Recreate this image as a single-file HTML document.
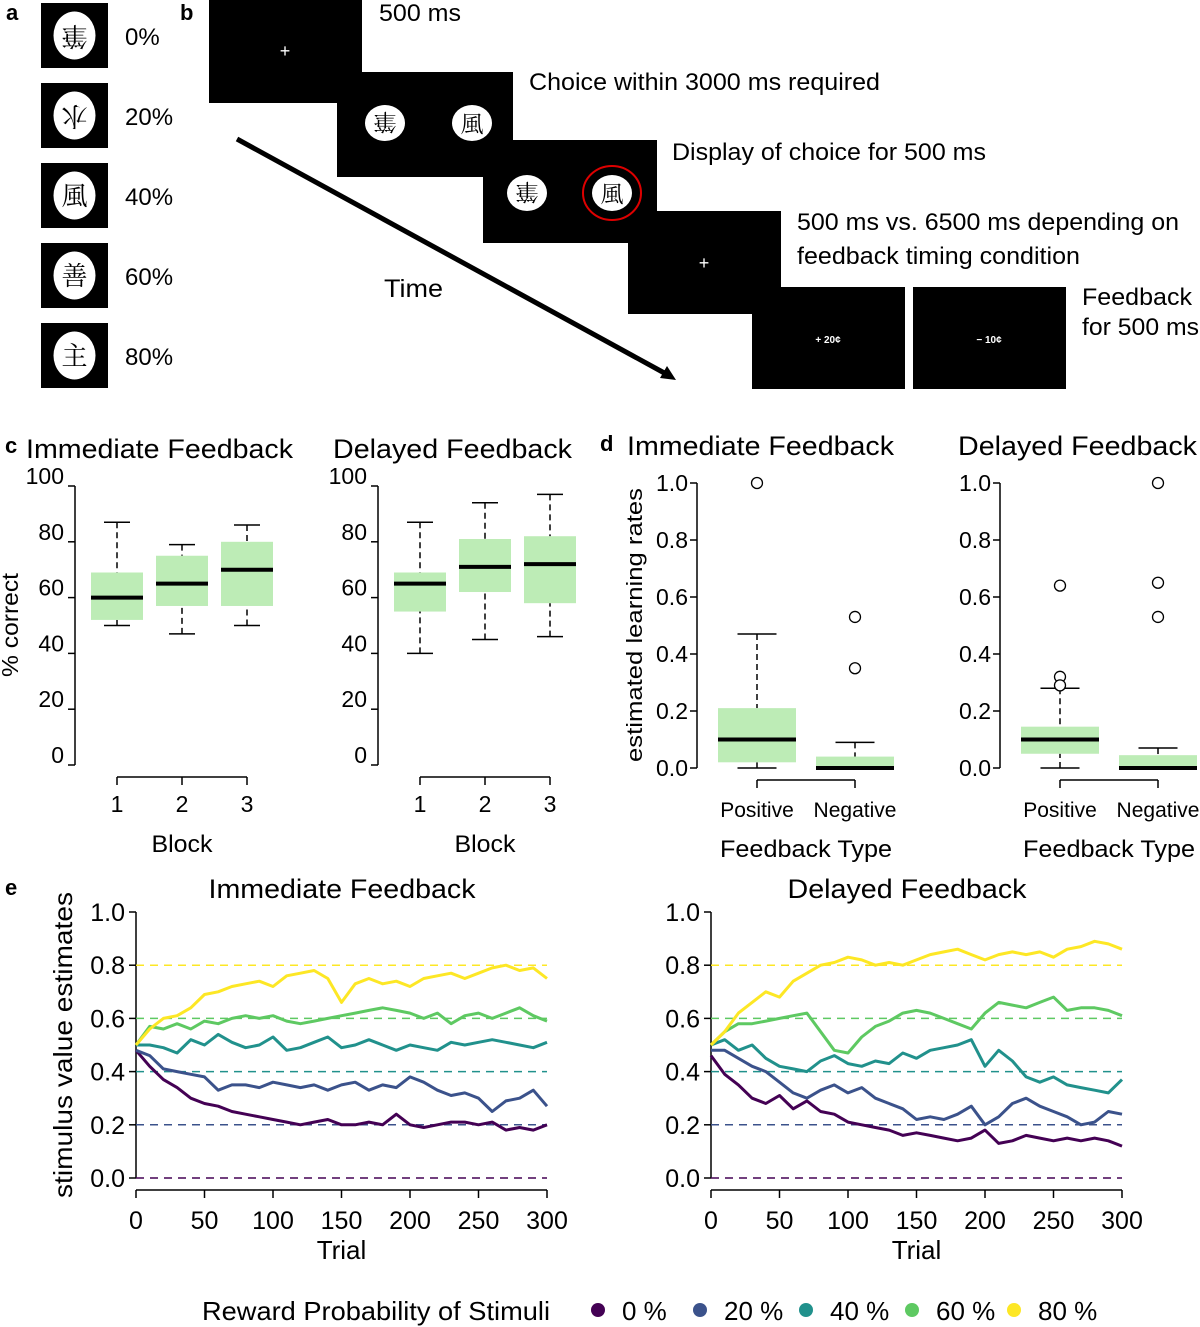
<!DOCTYPE html>
<html><head><meta charset="utf-8"><style>
html,body{margin:0;padding:0;background:#fff}
svg{display:block;font-family:"Liberation Sans","Noto Sans CJK SC",sans-serif}
</style></head><body>
<svg id="fig" width="1200" height="1327" viewBox="0 0 1200 1327" xmlns="http://www.w3.org/2000/svg">
<g>
<text x="6" y="20" font-size="22" font-weight="bold">a</text>
<g id="stims"></g>
</g>
<g>
<text x="180" y="20" font-size="22" font-weight="bold">b</text>
<rect x="209" y="0" width="153" height="103" fill="#000"/>
<text x="285" y="57" font-size="18" fill="#fff" text-anchor="middle">+</text>
<rect x="337" y="72" width="176" height="105" fill="#000"/>
<rect x="483" y="140" width="174" height="103" fill="#000"/>
<rect x="628" y="211" width="153" height="103" fill="#000"/>
<text x="704" y="269" font-size="18" fill="#fff" text-anchor="middle">+</text>
<rect x="752" y="287" width="153" height="102" fill="#000"/>
<rect x="913" y="287" width="153" height="102" fill="#000"/>
<text x="828" y="343" font-size="10" fill="#fff" font-weight="bold" text-anchor="middle">+ 20¢</text>
<text x="989" y="343" font-size="10" fill="#fff" font-weight="bold" text-anchor="middle">− 10¢</text>
<g id="bicons"></g>
<ellipse cx="612" cy="193" rx="29" ry="27" fill="none" stroke="#d00" stroke-width="2"/>
<line x1="237" y1="139" x2="668" y2="375" stroke="#000" stroke-width="5"/>
<polygon points="676,380 660,378 667,366" fill="#000"/>
<text x="384" y="297" font-size="25" textLength="59" lengthAdjust="spacingAndGlyphs">Time</text>
<g font-size="24">
<text x="379" y="21" textLength="82" lengthAdjust="spacingAndGlyphs">500 ms</text>
<text x="529" y="90" textLength="351" lengthAdjust="spacingAndGlyphs">Choice within 3000 ms required</text>
<text x="672" y="160" textLength="314" lengthAdjust="spacingAndGlyphs">Display of choice for 500 ms</text>
<text x="797" y="230" textLength="382" lengthAdjust="spacingAndGlyphs">500 ms vs. 6500 ms depending on</text>
<text x="797" y="264" textLength="283" lengthAdjust="spacingAndGlyphs">feedback timing condition</text>
<text x="1082" y="305" textLength="110" lengthAdjust="spacingAndGlyphs">Feedback</text>
<text x="1082" y="335" textLength="117" lengthAdjust="spacingAndGlyphs">for 500 ms</text>
</g>
</g>
<g id="pc">
<text x="5" y="453" font-size="22" font-weight="bold">c</text>
<text x="26" y="458" font-size="27" textLength="267" lengthAdjust="spacingAndGlyphs">Immediate Feedback</text>
<text x="333" y="458" font-size="27" textLength="239" lengthAdjust="spacingAndGlyphs">Delayed Feedback</text>
<text transform="translate(18,625) rotate(-90)" font-size="23" text-anchor="middle" textLength="104" lengthAdjust="spacingAndGlyphs">% correct</text>
</g>
<g id="pd">
<text x="600" y="451" font-size="22" font-weight="bold">d</text>
<text x="627" y="455" font-size="27" textLength="267" lengthAdjust="spacingAndGlyphs">Immediate Feedback</text>
<text x="958" y="455" font-size="27" textLength="239" lengthAdjust="spacingAndGlyphs">Delayed Feedback</text>
<text transform="translate(642,625) rotate(-90)" font-size="22" text-anchor="middle" textLength="274" lengthAdjust="spacingAndGlyphs">estimated learning rates</text>
</g>
<g id="pe">
<text x="5" y="895" font-size="22" font-weight="bold">e</text>
<text x="342" y="898" font-size="27" text-anchor="middle" textLength="267" lengthAdjust="spacingAndGlyphs">Immediate Feedback</text>
<text x="907" y="898" font-size="27" text-anchor="middle" textLength="239" lengthAdjust="spacingAndGlyphs">Delayed Feedback</text>
<text transform="translate(72,1045) rotate(-90)" font-size="26" text-anchor="middle" textLength="306" lengthAdjust="spacingAndGlyphs">stimulus value estimates</text>
</g>
<g id="legend">
<text x="202" y="1320" font-size="26" textLength="348" lengthAdjust="spacingAndGlyphs">Reward Probability of Stimuli</text>
</g>
</svg>
<script>
const NS="http://www.w3.org/2000/svg";
function mk(tag,attrs,parent,txt){const e=document.createElementNS(NS,tag);for(const k in attrs)e.setAttribute(k,attrs[k]);if(txt!==undefined)e.textContent=txt;parent.appendChild(e);return e;}

// ---------- panel a ----------
const stimChars=["筆","水","風","善","主"];
const stimLabels=["0%","20%","40%","60%","80%"];
const stimRot=[180,180,0,0,0];
const sg=document.getElementById('stims');
stimChars.forEach((c,i)=>{
  const y=3+i*80;
  const r=mk('rect',{x:41,y:y,width:67,height:65,fill:'#000'},sg);
  
  
  mk('ellipse',{cx:74.5,cy:y+32.5,rx:21,ry:24,fill:'#fff'},sg);
  mk('text',{x:74.5,y:y+42,'font-size':26,'text-anchor':'middle',transform:`rotate(${stimRot[i]} 74.5 ${y+33})`,'font-family':'"Noto Serif CJK SC",serif'},sg,c);
  const t=mk('text',{x:125,y:y+42,'font-size':24},sg,stimLabels[i]);
  
  
});
const bg=document.getElementById('bicons');
[[385,123,"筆",180],[472,123,"風",0],[527,193,"筆",180],[612,193,"風",0]].forEach(([x,y,c,rot])=>{
  mk('ellipse',{cx:x,cy:y,rx:20,ry:18,fill:'#fff'},bg);
  mk('text',{x:x,y:y+9,'font-size':23,'text-anchor':'middle',transform:`rotate(${rot} ${x} ${y})`,'font-family':'"Noto Serif CJK SC",serif'},bg,c);
});

// ---------- panel c data ----------
const blocks=["1","2","3"];
const cTicks=[0,20,40,60,80,100];
const immC_wlo=[50,47,50], immC_q1=[52,57,57], immC_med=[60,65,70], immC_q3=[69,75,80], immC_whi=[87,79,86];
const delC_wlo=[40,45,46], delC_q1=[55,62,58], delC_med=[65,71,72], delC_q3=[69,81,82], delC_whi=[87,94,97];

// ---------- panel d data ----------
const fbTypes=["Positive","Negative"];
const dTicks=[0.0,0.2,0.4,0.6,0.8,1.0];
const immD_wlo=[0,0], immD_q1=[0.02,0], immD_med=[0.10,0.0], immD_q3=[0.21,0.04], immD_whi=[0.47,0.09];
const immD_out=[[1.0],[0.53,0.35]];
const delD_wlo=[0,0], delD_q1=[0.05,0], delD_med=[0.10,0.0], delD_q3=[0.145,0.045], delD_whi=[0.28,0.07];
const delD_out=[[0.64,0.32,0.29],[1.0,0.65,0.53]];

function boxPanel(g,o){
  const y=v=>o.y0-(v-o.vmin)/(o.vmax-o.vmin)*(o.y0-o.y1);
  const x=i=>o.xs[0]+i*(o.xs[1]-o.xs[0]);
  const ax=mk('line',{x1:o.ax,y1:y(o.vmin),x2:o.ax,y2:y(o.vmax),stroke:'#000','stroke-width':1.5},g);
  
  
  o.ticks.forEach(t=>{
    mk('line',{x1:o.ax-7,y1:y(t),x2:o.ax,y2:y(t),stroke:'#000','stroke-width':1.5},g);
    const tl=mk('text',{x:o.ax-o.tdx,y:y(t)+o.tdy,'font-size':o.tsize,'text-anchor':'end'},g,o.fmt(t));
    
    
  });
  const xa=mk('line',{x1:x(0),y1:o.xay,x2:x(o.cats.length-1),y2:o.xay,stroke:'#000','stroke-width':1.5},g);
  
  
  o.cats.forEach((c,i)=>{
    mk('line',{x1:x(i),y1:o.xay,x2:x(i),y2:o.xay+8,stroke:'#000','stroke-width':1.5},g);
    const tl=mk('text',{x:x(i),y:o.xay+o.lblDy,'font-size':o.lblSize,'text-anchor':'middle'},g,c);
    
    
    const cx=x(i),hw=o.bw/2;
    mk('line',{x1:cx,y1:y(o.whi[i]),x2:cx,y2:y(o.q3[i]),stroke:'#000','stroke-width':1.5,'stroke-dasharray':'6,4'},g);
    mk('line',{x1:cx,y1:y(o.wlo[i]),x2:cx,y2:y(o.q1[i]),stroke:'#000','stroke-width':1.5,'stroke-dasharray':'6,4'},g);
    mk('line',{x1:cx-hw/2,y1:y(o.whi[i]),x2:cx+hw/2,y2:y(o.whi[i]),stroke:'#000','stroke-width':1.5},g);
    mk('line',{x1:cx-hw/2,y1:y(o.wlo[i]),x2:cx+hw/2,y2:y(o.wlo[i]),stroke:'#000','stroke-width':1.5},g);
    const b=mk('rect',{x:cx-hw,y:y(o.q3[i]),width:o.bw,height:Math.max(1,y(o.q1[i])-y(o.q3[i])),fill:'#bdecb6'},g);
    
    
    mk('line',{x1:cx-hw,y1:y(o.med[i]),x2:cx+hw,y2:y(o.med[i]),stroke:'#000','stroke-width':4},g);
    (o.out?o.out[i]:[]).forEach(v=>{
      const p=mk('circle',{cx:cx,cy:y(v),r:5.5,fill:'#fff',stroke:'#000','stroke-width':1.3},g);
      
      
    });
  });
  const xt=mk('text',{x:(x(0)+x(o.cats.length-1))/2,y:o.xtY,'font-size':24,'text-anchor':'middle'},g,o.xtitle);
  if(o.xtLen){xt.setAttribute('textLength',o.xtLen);xt.setAttribute('lengthAdjust','spacingAndGlyphs');}
  
  
}
const pc=document.getElementById('pc');
const cfmt=t=>String(t);
boxPanel(pc,{ax:75,y0:765,y1:486,vmin:0,vmax:100,ticks:cTicks,fmt:cfmt,tdx:11,tsize:23,tdy:-2,xs:[117,182],cats:blocks,xay:777,lblDy:35,lblSize:23,bw:52,xtY:852,xtitle:'Block',xtLen:61,wlo:immC_wlo,q1:immC_q1,med:immC_med,q3:immC_q3,whi:immC_whi});
boxPanel(pc,{ax:378,y0:765,y1:486,vmin:0,vmax:100,ticks:cTicks,fmt:cfmt,tdx:11,tsize:23,tdy:-2,xs:[420,485],cats:blocks,xay:777,lblDy:35,lblSize:23,bw:52,xtY:852,xtitle:'Block',xtLen:61,wlo:delC_wlo,q1:delC_q1,med:delC_med,q3:delC_q3,whi:delC_whi});
const pd=document.getElementById('pd');
const dfmt=t=>t.toFixed(1);
boxPanel(pd,{ax:697,y0:768,y1:483,vmin:0,vmax:1,ticks:dTicks,fmt:dfmt,tdx:9,tsize:23,tdy:8,xs:[757,855],cats:fbTypes,xay:780,lblDy:37,lblSize:21,bw:78,xtY:857,xtitle:'Feedback Type',xtLen:172,wlo:immD_wlo,q1:immD_q1,med:immD_med,q3:immD_q3,whi:immD_whi,out:immD_out});
boxPanel(pd,{ax:1000,y0:768,y1:483,vmin:0,vmax:1,ticks:dTicks,fmt:dfmt,tdx:9,tsize:23,tdy:8,xs:[1060,1158],cats:fbTypes,xay:780,lblDy:37,lblSize:21,bw:78,xtY:857,xtitle:'Feedback Type',xtLen:172,wlo:delD_wlo,q1:delD_q1,med:delD_med,q3:delD_q3,whi:delD_whi,out:delD_out});

// ---------- panel e data ----------
const probLabels=["0 %","20 %","40 %","60 %","80 %"];
const trueProbs=[0,0.2,0.4,0.6,0.8];
const colors=["#440154","#3b528b","#21918c","#5ec962","#fde725"];
const eXTicks=[0,50,100,150,200,250,300];
const eYTicks=[0.0,0.2,0.4,0.6,0.8,1.0];
const trials=[0,10,20,30,40,50,60,70,80,90,100,110,120,130,140,150,160,170,180,190,200,210,220,230,240,250,260,270,280,290,300];
const immP0=[0.48,0.42,0.37,0.34,0.30,0.28,0.27,0.25,0.24,0.23,0.22,0.21,0.20,0.21,0.22,0.20,0.20,0.21,0.20,0.24,0.20,0.19,0.20,0.21,0.21,0.20,0.21,0.18,0.19,0.18,0.20];
const immP20=[0.48,0.46,0.41,0.40,0.39,0.38,0.33,0.35,0.35,0.34,0.36,0.35,0.34,0.35,0.33,0.35,0.36,0.33,0.35,0.34,0.38,0.36,0.33,0.31,0.32,0.30,0.25,0.29,0.30,0.33,0.27];
const immP40=[0.50,0.50,0.49,0.47,0.52,0.50,0.54,0.51,0.49,0.50,0.53,0.48,0.49,0.51,0.53,0.49,0.50,0.52,0.50,0.48,0.50,0.49,0.48,0.51,0.50,0.51,0.52,0.51,0.50,0.49,0.51];
const immP60=[0.50,0.57,0.56,0.58,0.56,0.59,0.58,0.60,0.61,0.60,0.61,0.59,0.58,0.59,0.60,0.61,0.62,0.63,0.64,0.63,0.62,0.60,0.62,0.58,0.61,0.62,0.60,0.62,0.64,0.61,0.59];
const immP80=[0.50,0.56,0.60,0.61,0.64,0.69,0.70,0.72,0.73,0.74,0.72,0.76,0.77,0.78,0.75,0.66,0.73,0.75,0.73,0.74,0.72,0.75,0.76,0.77,0.75,0.77,0.79,0.80,0.78,0.79,0.75];
const delP0=[0.46,0.39,0.35,0.30,0.28,0.31,0.26,0.29,0.25,0.24,0.21,0.20,0.19,0.18,0.16,0.17,0.16,0.15,0.14,0.15,0.18,0.13,0.14,0.16,0.15,0.14,0.15,0.14,0.15,0.14,0.12];
const delP20=[0.48,0.48,0.45,0.42,0.40,0.36,0.32,0.30,0.33,0.35,0.32,0.34,0.30,0.28,0.26,0.22,0.23,0.22,0.24,0.27,0.20,0.23,0.28,0.30,0.27,0.25,0.23,0.20,0.21,0.25,0.24];
const delP40=[0.50,0.52,0.48,0.50,0.45,0.42,0.41,0.40,0.44,0.46,0.43,0.42,0.44,0.43,0.47,0.45,0.48,0.49,0.50,0.52,0.42,0.48,0.44,0.38,0.36,0.38,0.35,0.34,0.33,0.32,0.37];
const delP60=[0.50,0.55,0.58,0.58,0.59,0.60,0.61,0.62,0.55,0.48,0.47,0.53,0.57,0.59,0.62,0.63,0.62,0.60,0.58,0.56,0.62,0.66,0.65,0.64,0.66,0.68,0.63,0.64,0.64,0.63,0.61];
const delP80=[0.50,0.55,0.62,0.66,0.70,0.68,0.74,0.77,0.80,0.81,0.83,0.82,0.80,0.81,0.80,0.82,0.84,0.85,0.86,0.84,0.82,0.84,0.85,0.84,0.85,0.83,0.86,0.87,0.89,0.88,0.86];
const immSeries=[immP0,immP20,immP40,immP60,immP80];
const delSeries=[delP0,delP20,delP40,delP60,delP80];

function linePanel(g,xa,series){
  const X=t=>xa+t/300*411, Y=v=>1178-v*266;
  const ya=mk('line',{x1:xa,y1:Y(0),x2:xa,y2:Y(1),stroke:'#000','stroke-width':1.5},g);
  
  
  eYTicks.forEach(t=>{
    mk('line',{x1:xa-7,y1:Y(t),x2:xa,y2:Y(t),stroke:'#000','stroke-width':1.5},g);
    const tl=mk('text',{x:xa-11,y:Y(t)+9,'font-size':25,'text-anchor':'end'},g,t.toFixed(1));
    
    
  });
  const xl=mk('line',{x1:X(0),y1:1190,x2:X(300),y2:1190,stroke:'#000','stroke-width':1.5},g);
  
  
  eXTicks.forEach(t=>{
    mk('line',{x1:X(t),y1:1190,x2:X(t),y2:1198,stroke:'#000','stroke-width':1.5},g);
    const tl=mk('text',{x:X(t),y:1229,'font-size':25,'text-anchor':'middle'},g,String(t));
    
    
  });
  const xt=mk('text',{x:X(150),y:1259,'font-size':26,'text-anchor':'middle'},g,'Trial');
  
  
  trueProbs.forEach((p,i)=>{
    const r=mk('line',{x1:X(0),y1:Y(p),x2:X(300),y2:Y(p),stroke:colors[i],'stroke-width':1.5,'stroke-dasharray':'8,6'},g);
    
    
  });
  series.forEach((s,i)=>{
    const d=s.map((v,j)=>(j?'L':'M')+X(trials[j]).toFixed(1)+','+Y(v).toFixed(1)).join(' ');
    const l=mk('path',{d:d,fill:'none',stroke:colors[i],'stroke-width':3,'stroke-linejoin':'round'},g);
    
    
  });
}
const pe=document.getElementById('pe');
linePanel(pe,136,immSeries);
linePanel(pe,711,delSeries);

const lg=document.getElementById('legend');
const legX=[598,700,806,912,1014];
probLabels.forEach((p,i)=>{
  const c=mk('circle',{cx:legX[i],cy:1310,r:7,fill:colors[i]},lg);
  
  
  const t=mk('text',{x:legX[i]+24,y:1320,'font-size':26},lg,p);
  
  
});
</script>
</body></html>
